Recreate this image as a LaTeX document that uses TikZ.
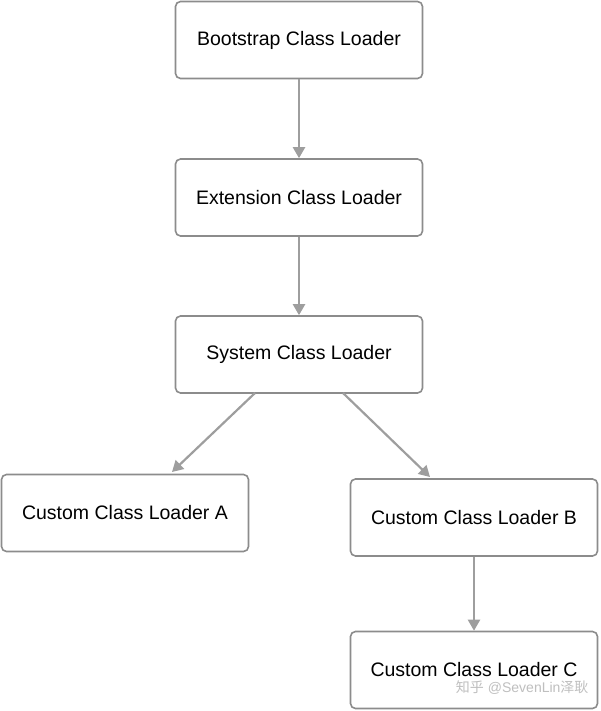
\documentclass[tikz,border=0pt]{standalone}
\usepackage{fontspec}
\setmainfont{Liberation Sans}
\newfontfamily\cjk{Noto Sans CJK SC}
\usetikzlibrary{arrows.meta}
\begin{document}
\begin{tikzpicture}[x=1pt,y=-1pt,
  box/.style={draw=black!45,line width=1.6pt,rounded corners=5pt,fill=white,minimum width=247pt,minimum height=77pt,inner sep=0pt,font=\fontsize{19.5}{22}\selectfont},
  arr/.style={draw=black!38,line width=2.2pt,-{Triangle[length=11pt,width=12pt]}}]
\useasboundingbox (0,0) rectangle (600,711);
\node[box] (bs) at (299,40) {Bootstrap Class Loader};
\node[box] (ext) at (299,197.5) {Extension Class Loader};
\node[box] (sys) at (299,354.5) {System Class Loader};
\node[box] (a) at (125,513) {Custom Class Loader A};
\node[box] (b) at (474,517.5) {Custom Class Loader B};
\node[box] (c) at (474,670) {Custom Class Loader C};
\draw[arr] (bs) -- (ext);
\draw[arr] (ext) -- (sys);
\draw[arr] (255,393) -- (172,472);
\draw[arr] (343,393) -- (430,477);
\draw[arr] (b) -- (c);
\node[text=black!25,font=\fontsize{14}{16}\selectfont,anchor=east] (wm) at (592,688) {{\cjk 知乎} @SevenLin{\cjk 泽耿}};
\end{tikzpicture}
\end{document}
